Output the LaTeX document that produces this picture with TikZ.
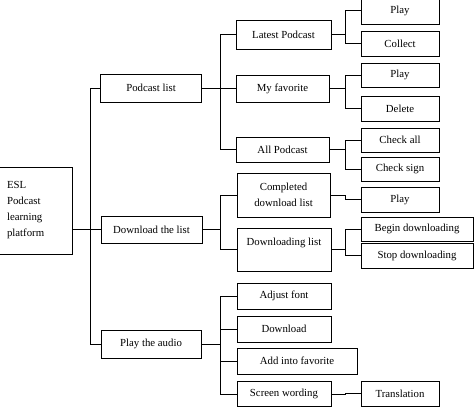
\documentclass[tikz,border=0pt]{standalone}
\usepackage{fontspec}
\setmainfont{Liberation Serif}
\begin{document}
\begin{tikzpicture}[x=1pt,y=-1pt,line width=0.7pt,
	box/.style={draw,inner sep=1pt,align=center,font=\fontsize{10.8}{16}\selectfont},
	leaf/.style={box,minimum width=78pt,minimum height=25pt}]
	\useasboundingbox (0,0) rectangle (474,407);
	\coordinate (t1) at (90,0);
	\coordinate (t2) at (220,0);
	\coordinate (t3) at (345,0);
	% root and first level
	\node[box,minimum width=73pt,minimum height=87pt,text width=57pt,align=left] (root) at (35.5,210.5) {ESL\\Podcast\\learning\\platform};
	\node[box,minimum width=101pt,minimum height=28pt] (pl) at (151,88) {Podcast list};
	\node[box,minimum width=101pt,minimum height=27pt] (dl) at (151.5,229.5) {Download the list};
	\node[box,minimum width=100pt,minimum height=28pt] (pa) at (151,344) {Play the audio};
	% second level
	\node[box,minimum width=95pt,minimum height=29pt] (lp) at (283.5,34.5) {Latest Podcast};
	\node[box,minimum width=93pt,minimum height=27pt] (mf) at (282.5,88.5) {My favorite};
	\node[box,minimum width=93pt,minimum height=25pt] (ap) at (282.5,149.5) {All Podcast};
	\node[box,minimum width=93pt,minimum height=44pt] (cd) at (283.5,195) {Completed\\download list};
	\node[box,minimum width=94pt,minimum height=43pt] (dg) at (284,249.5) {Downloading list\\~};
	\node[box,minimum width=94pt,minimum height=26pt] (af) at (284,296) {Adjust font};
	\node[box,minimum width=94pt,minimum height=26pt] (dw) at (284,329) {Download};
	\node[box,minimum width=120pt,minimum height=26pt] (ai) at (297,361) {Add into favorite};
	\node[box,minimum width=94pt,minimum height=25pt] (sw) at (284,394) {Screen wording};
	% third level
	\node[leaf,minimum height=27pt] (pA) at (400,10.5) {Play};
	\node[leaf] (co) at (400,43.5) {Collect};
	\node[leaf,minimum height=24pt] (pB) at (400,75) {Play};
	\node[leaf] (de) at (400,108.5) {Delete};
	\node[leaf,minimum height=24pt] (ca) at (400,140) {Check all};
	\node[leaf,minimum height=24pt] (cs) at (400,169) {Check sign};
	\node[leaf] (pC) at (400,199.5) {Play};
	\node[leaf,minimum width=112pt,minimum height=24pt] (bd) at (417,229) {Begin downloading};
	\node[leaf,minimum width=112pt] (sd) at (417,255.5) {Stop downloading};
	\node[leaf] (tr) at (400,393.5) {Translation};
	% connectors
	\draw (root.east |- dl.west) -- (dl.west);
	\foreach \c in {pl,pa} \draw (t1 |- dl.west) |- (\c.west);
	\foreach \p/\c in {pl/lp,pl/mf,pl/ap,dl/cd,dl/dg,pa/af,pa/dw,pa/ai,pa/sw}
		\draw (\p.east) -- (\p.east -| t2) |- (\c.west);
	\foreach \p/\c in {lp/pA,lp/co,mf/pB,mf/de,ap/ca,ap/cs,cd/pC,dg/bd,dg/sd,sw/tr}
		\draw (\p.east) -- (\p.east -| t3) |- (\c.west);
\end{tikzpicture}
\end{document}
